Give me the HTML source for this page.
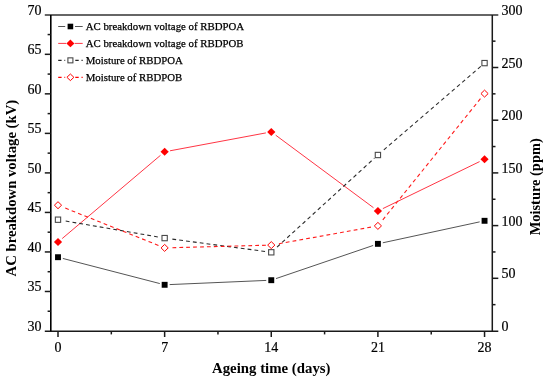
<!DOCTYPE html>
<html><head><meta charset="utf-8"><style>
html,body{margin:0;padding:0;background:#fff;width:550px;height:379px;overflow:hidden}
svg{display:block}
</style></head><body>
<svg width="550" height="379" viewBox="0 0 550 379">
<rect width="550" height="379" fill="#fff"/>
<g stroke="#1a1a1a" stroke-width="1.5" fill="none">
<path d="M44.8,15.0H498.3" stroke="#333" stroke-width="1.7"/>
<path d="M44.8,331.2H498.3"/>
<path d="M50.8,15.0V331.2" stroke="#000" stroke-width="1.6"/>
<path d="M492.3,15.0V331.2"/>
<path d="M47.599999999999994,311.24H50.8"/>
<path d="M44.8,291.48H50.8"/>
<path d="M47.599999999999994,271.71H50.8"/>
<path d="M44.8,251.95H50.8"/>
<path d="M47.599999999999994,232.19H50.8"/>
<path d="M44.8,212.43H50.8"/>
<path d="M47.599999999999994,192.66H50.8"/>
<path d="M44.8,172.90H50.8"/>
<path d="M47.599999999999994,153.14H50.8"/>
<path d="M44.8,133.38H50.8"/>
<path d="M47.599999999999994,113.61H50.8"/>
<path d="M44.8,93.85H50.8"/>
<path d="M47.599999999999994,74.09H50.8"/>
<path d="M44.8,54.32H50.8"/>
<path d="M47.599999999999994,34.56H50.8"/>
<path d="M492.3,304.65H495.5"/>
<path d="M492.3,278.30H498.3"/>
<path d="M492.3,251.95H495.5"/>
<path d="M492.3,225.60H498.3"/>
<path d="M492.3,199.25H495.5"/>
<path d="M492.3,172.90H498.3"/>
<path d="M492.3,146.55H495.5"/>
<path d="M492.3,120.20H498.3"/>
<path d="M492.3,93.85H495.5"/>
<path d="M492.3,67.50H498.3"/>
<path d="M492.3,41.15H495.5"/>
<path d="M58.00,331.2V337.0"/>
<path d="M111.32,331.2V334.4"/>
<path d="M164.64,331.2V337.0"/>
<path d="M217.96,331.2V334.4"/>
<path d="M271.27,331.2V337.0"/>
<path d="M324.59,331.2V334.4"/>
<path d="M377.91,331.2V337.0"/>
<path d="M431.23,331.2V334.4"/>
<path d="M484.55,331.2V337.0"/>
</g>
<g font-family="Liberation Serif, serif" font-size="14" fill="#000" stroke="#000" stroke-width="0.2">
<text x="41.6" y="331.00" text-anchor="end">30</text>
<text x="41.6" y="291.48" text-anchor="end">35</text>
<text x="41.6" y="251.95" text-anchor="end">40</text>
<text x="41.6" y="212.43" text-anchor="end">45</text>
<text x="41.6" y="172.90" text-anchor="end">50</text>
<text x="41.6" y="133.38" text-anchor="end">55</text>
<text x="41.6" y="93.85" text-anchor="end">60</text>
<text x="41.6" y="54.32" text-anchor="end">65</text>
<text x="41.6" y="14.80" text-anchor="end">70</text>
<text x="501.6" y="331.00">0</text>
<text x="501.6" y="278.30">50</text>
<text x="501.6" y="225.60">100</text>
<text x="501.6" y="172.90">150</text>
<text x="501.6" y="120.20">200</text>
<text x="501.6" y="67.50">250</text>
<text x="501.6" y="14.80">300</text>
<text x="58.00" y="351.6" text-anchor="middle">0</text>
<text x="164.64" y="351.6" text-anchor="middle">7</text>
<text x="271.27" y="351.6" text-anchor="middle">14</text>
<text x="377.91" y="351.6" text-anchor="middle">21</text>
<text x="484.55" y="351.6" text-anchor="middle">28</text>
</g>
<g font-family="Liberation Serif, serif" font-size="14.6" font-weight="bold" fill="#000">
<text x="212" y="372.8" textLength="118.5" lengthAdjust="spacingAndGlyphs">Ageing time (days)</text>
<text transform="translate(16.0,276.4) rotate(-90)" font-size="15" textLength="176.6" lengthAdjust="spacingAndGlyphs">AC breakdown voltage (kV)</text>
<text transform="translate(539.5,235.3) rotate(-90)" textLength="97" lengthAdjust="spacingAndGlyphs">Moisture (ppm)</text>
</g>
<path d="M62.84,258.45L159.80,283.55" stroke="#555" stroke-width="1" fill="none"/>
<path d="M169.63,284.58L266.28,280.42" stroke="#555" stroke-width="1" fill="none"/>
<path d="M276.01,278.59L373.18,245.46" stroke="#555" stroke-width="1" fill="none"/>
<path d="M382.80,242.79L479.66,221.86" stroke="#555" stroke-width="1" fill="none"/>
<path d="M62.20,238.55L160.44,155.35" stroke="#ff2a3a" stroke-width="0.95" fill="none"/>
<path d="M170.04,150.79L265.87,132.91" stroke="#ff2a3a" stroke-width="0.95" fill="none"/>
<path d="M275.69,135.18L373.50,207.72" stroke="#ff2a3a" stroke-width="0.95" fill="none"/>
<path d="M382.86,208.60L479.60,161.60" stroke="#ff2a3a" stroke-width="0.95" fill="none"/>
<path d="M63.22,220.60L159.91,237.28" stroke="#2a2a2a" stroke-width="1.1" fill="none" stroke-dasharray="3.8 3.1" stroke-dashoffset="4.4"/>
<path d="M169.89,238.80L266.52,251.67" stroke="#2a2a2a" stroke-width="1.1" fill="none" stroke-dasharray="3.8 3.1" stroke-dashoffset="4.4"/>
<path d="M275.19,248.73L374.37,158.24" stroke="#2a2a2a" stroke-width="1.1" fill="none" stroke-dasharray="3.8 3.1" stroke-dashoffset="4.4"/>
<path d="M381.93,151.54L480.91,66.23" stroke="#2a2a2a" stroke-width="1.1" fill="none" stroke-dasharray="3.8 3.1" stroke-dashoffset="4.4"/>
<path d="M62.92,207.17L160.00,246.04" stroke="#ff1a1a" stroke-width="1.1" fill="none" stroke-dasharray="3.8 3.1" stroke-dashoffset="4.4"/>
<path d="M169.94,247.76L266.28,245.23" stroke="#ff1a1a" stroke-width="1.1" fill="none" stroke-dasharray="3.8 3.1" stroke-dashoffset="4.4"/>
<path d="M276.49,244.16L372.99,226.79" stroke="#ff1a1a" stroke-width="1.1" fill="none" stroke-dasharray="3.8 3.1" stroke-dashoffset="4.4"/>
<path d="M381.24,221.77L481.41,97.49" stroke="#ff1a1a" stroke-width="1.1" fill="none" stroke-dasharray="3.8 3.1" stroke-dashoffset="4.4"/>
<rect x="55.05" y="254.25" width="5.9" height="5.9" fill="#000"/>
<path d="M53.90,242.10L58.00,238.10L62.10,242.10L58.00,246.10Z" fill="#ff0000"/>
<rect x="55.35" y="217.05" width="5.30" height="5.30" fill="#fff" stroke="#4a4a4a" stroke-width="1.1"/>
<path d="M54.40,205.20L58.00,201.70L61.60,205.20L58.00,208.70Z" fill="#fff" stroke="#ff0000" stroke-width="1"/>
<rect x="161.69" y="281.85" width="5.9" height="5.9" fill="#000"/>
<path d="M160.54,151.80L164.64,147.80L168.74,151.80L164.64,155.80Z" fill="#ff0000"/>
<rect x="161.99" y="235.45" width="5.30" height="5.30" fill="#fff" stroke="#4a4a4a" stroke-width="1.1"/>
<path d="M161.04,247.90L164.64,244.40L168.24,247.90L164.64,251.40Z" fill="#fff" stroke="#ff0000" stroke-width="1"/>
<rect x="268.32" y="277.25" width="5.9" height="5.9" fill="#000"/>
<path d="M267.17,131.90L271.27,127.90L275.38,131.90L271.27,135.90Z" fill="#ff0000"/>
<rect x="268.62" y="249.65" width="5.30" height="5.30" fill="#fff" stroke="#4a4a4a" stroke-width="1.1"/>
<path d="M267.67,245.10L271.27,241.60L274.88,245.10L271.27,248.60Z" fill="#fff" stroke="#ff0000" stroke-width="1"/>
<rect x="374.96" y="240.90" width="5.9" height="5.9" fill="#000"/>
<path d="M373.81,211.00L377.91,207.00L382.01,211.00L377.91,215.00Z" fill="#ff0000"/>
<rect x="375.26" y="152.35" width="5.30" height="5.30" fill="#fff" stroke="#4a4a4a" stroke-width="1.1"/>
<path d="M374.31,225.90L377.91,222.40L381.51,225.90L377.91,229.40Z" fill="#fff" stroke="#ff0000" stroke-width="1"/>
<rect x="481.60" y="217.85" width="5.9" height="5.9" fill="#000"/>
<path d="M480.45,159.20L484.55,155.20L488.65,159.20L484.55,163.20Z" fill="#ff0000"/>
<rect x="481.90" y="60.45" width="5.30" height="5.30" fill="#fff" stroke="#4a4a4a" stroke-width="1.1"/>
<path d="M480.95,93.60L484.55,90.10L488.15,93.60L484.55,97.10Z" fill="#fff" stroke="#ff0000" stroke-width="1"/>
<path d="M58.2,26.5H65.2M75.0,26.5H82.7" stroke="#555" stroke-width="1"/>
<rect x="67.60" y="23.70" width="5.6" height="5.6" fill="#000"/>
<path d="M58.2,43.4H66.10000000000001M74.7,43.4H82.7" stroke="#ff2a3a" stroke-width="0.95"/>
<path d="M66.40,43.40L70.40,39.60L74.40,43.40L70.40,47.20Z" fill="#ff0000"/>
<path d="M58.2,60.35H65.2M75.30000000000001,60.35H82.7" stroke="#222" stroke-width="1.2" stroke-dasharray="3.4 2.8"/>
<rect x="67.90" y="57.85" width="5.00" height="5.00" fill="#fff" stroke="#4a4a4a" stroke-width="1.1"/>
<path d="M58.2,77.3H65.2M75.30000000000001,77.3H82.7" stroke="#ff0000" stroke-width="1.2" stroke-dasharray="3.4 2.8"/>
<path d="M66.90,77.30L70.40,74.00L73.90,77.30L70.40,80.60Z" fill="#fff" stroke="#ff0000" stroke-width="1"/>
<g font-family="Liberation Serif, serif" font-size="11.3" fill="#000" stroke="#000" stroke-width="0.25">
<text x="85.7" y="29.90" textLength="158.34" lengthAdjust="spacingAndGlyphs">AC breakdown voltage of RBDPOA</text>
<text x="85.7" y="46.80" textLength="157.75" lengthAdjust="spacingAndGlyphs">AC breakdown voltage of RBDPOB</text>
<text x="85.7" y="63.75" textLength="97.19" lengthAdjust="spacingAndGlyphs">Moisture of RBDPOA</text>
<text x="85.7" y="80.70" textLength="96.59" lengthAdjust="spacingAndGlyphs">Moisture of RBDPOB</text>
</g>
</svg>
</body></html>
